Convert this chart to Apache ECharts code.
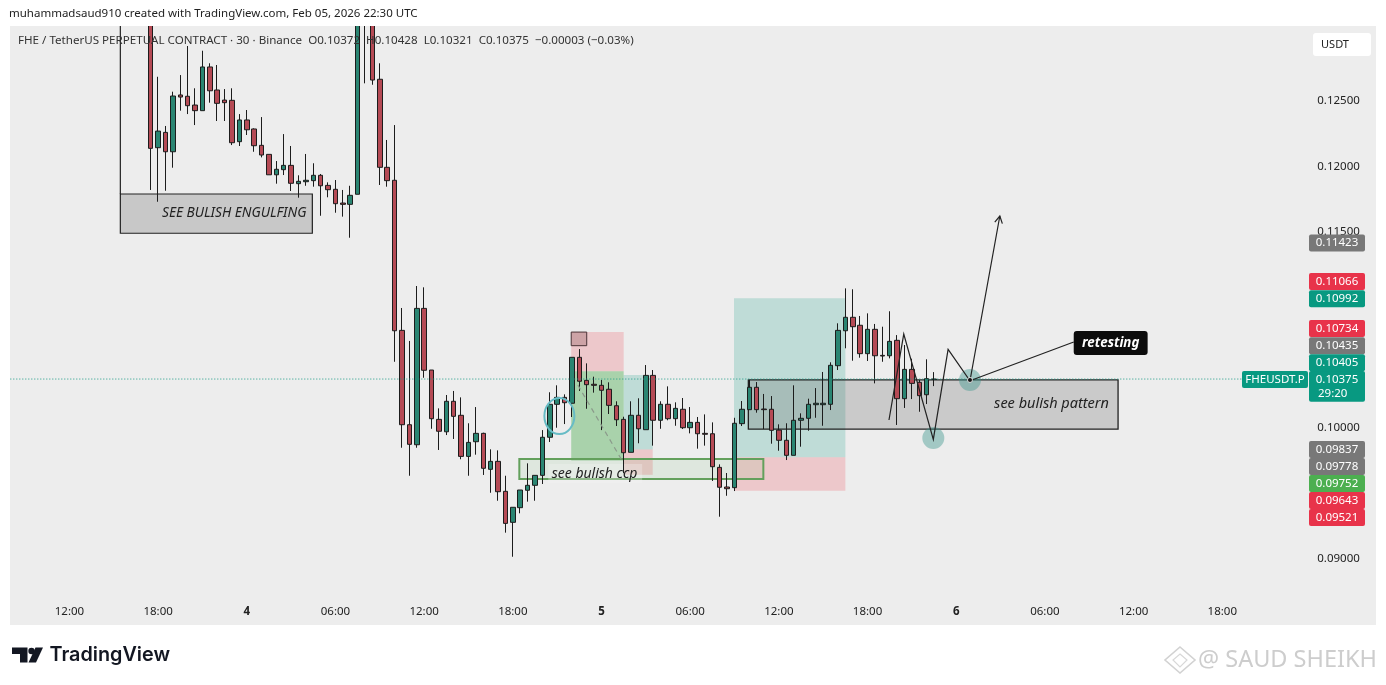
<!DOCTYPE html>
<html>
<head>
<meta charset="utf-8">
<style>html,body{margin:0;padding:0;background:#fff}#c{width:1386px;height:685px}</style>
<script src="https://cdn.jsdelivr.net/npm/echarts@6/dist/echarts.min.js"></script>
</head>
<body>
<div id="c"></div>
<script>
// ---- candle values (30 minute bars, first bar Feb 3 17:30) ----
const opens = [.1345,.12143,.1226,.12112,.12546,.12536,.12469,.12426,.1276,.12584,
.12507,.12505,.12189,.12355,.12286,.12161,.12092,.11936,.11975,.12008,
.11868,.11883,.11891,.11932,.11855,.11825,.1172,.1171,.11787,.1335,
.1322,.12666,.11993,.11894,.10747,.10026,.09873,.10915,.10444,.10067,
.09972,.10205,.10098,.09784,.09896,.0996,.09685,.09746,.09517,.0928,
.09392,.09525,.09563,.09639,.0993,.10182,.10235,.1019,.10541,.10365,
.10335,.10327,.10297,.10171,.10067,.09815,.10098,.09988,.10403,.1006,
.10182,.10072,.10144,.10003,.10044,.0996,.09957,.097,.0955,.09545,
.10034,.10141,.10312,.10146,.10144,.09985,.09907,.09792,.1006,.10075,
.10179,.10179,.10182,.10477,.10744,.10847,.10786,.10569,.10755,.10556,
.10553,.10671,.10225,.10449,.1035,.10255,.10372];
const closes = [.12138,.1227,.12112,.12538,.1253,.12464,.12426,.1276,.12578,.12482,
.12487,.12181,.12355,.1228,.12158,.12087,.11936,.11978,.12008,.11871,
.11886,.11894,.11932,.11852,.11822,.11715,.1171,.11779,.1325,.1322,
.1266,.11993,.11891,.10744,.10026,.09876,.10915,.10442,.10072,.09976,
.10205,.1009,.09784,.09891,.0996,.09693,.09746,.09514,.09272,.09395,
.09527,.09563,.09639,.0993,.10182,.10235,.10194,.10541,.10358,.10332,
.10327,.10289,.10174,.10064,.09812,.10098,.09995,.10403,.1006,.10182,
.10072,.10151,.10003,.10044,.09957,.09953,.09705,.09548,.09537,.10037,
.10144,.10312,.10141,.10141,.09983,.09907,.09792,.1006,.10075,.10182,
.1019,.1019,.1048,.10747,.10847,.10775,.10569,.10755,.10553,.10551,
.10663,.10225,.10449,.10342,.10248,.10378,.10375];
const lows = [.1182,.1173,.11814,.1199,.12426,.124,.12316,.12426,.12487,.12347,
.12347,.12163,.12156,.1224,.12112,.12069,.11936,.11868,.11934,.11812,
.11761,.11852,.11845,.11623,.11764,.11646,.11616,.11455,.11787,.12635,
.12624,.11858,.11845,.10507,.0985,.09636,.0985,.10385,.09995,.09833,
.09947,.09917,.09762,.09636,.09797,.09642,.09506,.09445,.09201,.09017,
.09349,.09438,.09445,.09573,.09894,.10003,.10031,.10085,.10284,.10148,
.10271,.09985,.10108,.10016,.09655,.09815,.09884,.09988,.09866,.09995,
.1006,.10018,.09993,.0996,.09843,.09866,.09596,.09323,.09483,.09519,
.10016,.10141,.10118,.09993,.09881,.09827,.09756,.09792,.09858,.0998,
.10079,.10018,.10138,.10444,.1061,.10515,.10538,.10513,.10342,.10507,
.10533,.10024,.10154,.10222,.10125,.10184,.10321];
const highs = [.137,.12685,.12309,.12571,.12698,.1292,.12597,.12884,.12788,.12775,
.12591,.12597,.124,.12431,.12291,.12377,.12092,.12041,.12247,.12156,
.11932,.12095,.12024,.11942,.11878,.11896,.1182,.11852,.1335,.135,
.1335,.12788,.12202,.12316,.10918,.10666,.11086,.11076,.10444,.10151,
.10253,.10284,.10235,.10037,.10161,.09965,.09838,.0983,.09636,.09395,
.09527,.09731,.09639,.09985,.10274,.10327,.10258,.10541,.10604,.10495,
.10393,.10368,.1035,.10205,.10087,.10205,.10228,.10482,.10444,.10205,
.10319,.10197,.1023,.10161,.10085,.10105,.10044,.09723,.09657,.10079,
.10207,.10368,.10352,.10261,.10245,.10029,.10037,.10327,.10113,.10225,
.10306,.10429,.10503,.10801,.11068,.11061,.10857,.10877,.10796,.10775,
.10893,.10711,.10635,.1053,.10368,.10526,.10428];

const lastPrice = 0.10375;
const firstBar = 11;          // bars after Feb 3 12:00
const barsBefore = 7, barsTotal = 175;

// ---- axis text ----
const categories = [];
for (let i = 0; i < barsTotal; i++) {
  const k = i - barsBefore, m = 12 * 60 + 30 * k;
  const h = Math.floor(m / 60) % 24, mm = m % 60;
  const day = 3 + Math.floor(m / 1440);
  categories.push(h === 0 && mm === 0 ? String(day) : String(h).padStart(2, '0') + ':' + (mm ? '30' : '00'));
}
const FONT = '"Noto Sans", sans-serif';

// ---- price tags on the axis ----
const tagTexts  = ['0.11423','0.11066','0.10992','0.10734','0.10435','0.10405','0.09837','0.09778','0.09752','0.09643','0.09521'];
const tagColors = ['#787878','#e8334a','#089981','#e8334a','#787878','#089981','#787878','#787878','#4caf50','#e8334a','#e8334a'];
const tagTops   = [234.5,273,290.3,320,337.3,354.3,441,458,475,492,509];

// ---- drawing tools, in bar position and price ----
const PINK = 'rgba(242,54,69,0.2)', TEAL = 'rgba(8,153,129,0.2)', SHADE = 'rgba(90,90,90,0.24)';
const zoneBars   = [[6.89,32.87],[67.9,75],[67.9,75],[75,78.93],[75,78.93],[89.93,105],[89.93,105],[67.9,70],[60.88,93.9],[64.8,77.5],[91.87,141.9]];
const zonePrices = [[.11789,.11489],[.10734,.10435],[.10435,.09752],[.10405,.09837],[.09837,.09643],[.10992,.09778],[.09778,.09521],[.10734,.1063],[.09764,.09611],[.09726,.0958],[.10368,.09993]];
const zoneFills  = ['#c8c8c8',PINK,'rgba(76,175,80,0.42)',TEAL,PINK,TEAL,PINK,'rgba(110,50,55,0.25)','rgba(76,175,80,0.09)','rgba(245,245,245,0.3)',SHADE];
const zoneEdges  = ['#222',null,null,null,null,null,null,'#4a3336','#63a05c',null,'#222'];
const zoneWidths = [1.2,0,0,0,0,0,0,1,2,0,1.3];

const pathBars   = [[6.89,6.89],[110.9,112.9,116.9,118.9,121.86,125.9],[121.86,135.9]];
const pathPrices = [[.1315,.11789],[.10062,.10719,.09914,.10602,.10362,.11621],[.10362,.10658]];
const dashBars = [68.8,74.9], dashPrices = [.10329,.09741];
const priceLineBars = [-8,158.7];
const ringBars = [121.86,116.9], ringPrices = [.10368,.09924];
const ovalBar = 66.3, ovalPrice = .10092;
const noteTexts  = ['SEE BULISH ENGULFING','see bulish ccp','see bulish pattern'];
const noteBars   = [22.3,71.06,132.9];
const notePrices = [.11644,.09649,.10184];
const noteSizes  = [13.7,14,14.5];
const calloutBars = [135.9,145.9], calloutPrices = [.10742,.10559];

// ---- build ----
const candleData = categories.map((_, i) => {
  const n = i - barsBefore - firstBar;
  return n >= 0 && n < opens.length ? [opens[n], closes[n], lows[n], highs[n]] : ['-', '-', '-', '-'];
});

function underItem(params, api) {
  const i = params.dataIndex;
  const a = api.coord([zoneBars[i][0], zonePrices[i][0]]), b = api.coord([zoneBars[i][1], zonePrices[i][1]]);
  return { type: 'rect', shape: { x: a[0], y: a[1], width: b[0] - a[0], height: b[1] - a[1] },
    style: { fill: zoneFills[i], stroke: zoneEdges[i], lineWidth: zoneWidths[i] } };
}
function overItem(params, api) {
  const kids = [];
  const line = (bars, prices, extra) => kids.push({ type: 'polyline',
    shape: { points: bars.map((b, j) => api.coord([b, prices[j]])) },
    style: Object.assign({ stroke: '#222', lineWidth: 1.2, fill: null }, extra || {}) });
  line(priceLineBars, [lastPrice, lastPrice], { stroke: '#1a9a84', lineWidth: 1, lineDash: [1, 2] });
  ringBars.forEach((b, j) => {
    const p = api.coord([b, ringPrices[j]]);
    kids.push({ type: 'circle', shape: { cx: p[0], cy: p[1], r: 11 }, style: { fill: 'rgba(60,150,140,0.42)' } });
  });
  const o = api.coord([ovalBar, ovalPrice]);
  kids.push({ type: 'ellipse', shape: { cx: o[0], cy: o[1], rx: 15, ry: 18 }, style: { stroke: '#67bcc6', lineWidth: 2, fill: null } });
  pathBars.forEach((b, j) => line(b, pathPrices[j]));
  line(dashBars, dashPrices, { stroke: '#8b9a8b', lineDash: [5, 4] });
  const chevron = (tip, from) => {
    const ang = Math.atan2(from[1] - tip[1], from[0] - tip[0]), L = 8;
    kids.push({ type: 'polyline', shape: { points: [
      [tip[0] + L * Math.cos(ang + .5), tip[1] + L * Math.sin(ang + .5)], tip,
      [tip[0] + L * Math.cos(ang - .5), tip[1] + L * Math.sin(ang - .5)]] },
      style: { stroke: '#222', lineWidth: 1.2, fill: null } });
  };
  const zz = pathBars[1], zp = pathPrices[1], n = zz.length - 1;
  chevron(api.coord([zz[n], zp[n]]), api.coord([zz[n - 1], zp[n - 1]]));
  const r0 = api.coord([ringBars[0], ringPrices[0]]);
  kids.push({ type: 'circle', shape: { cx: r0[0], cy: r0[1], r: 2.5 }, style: { fill: '#111', stroke: '#fff', lineWidth: 0.8 } });
  noteTexts.forEach((t, j) => {
    const p = api.coord([noteBars[j], notePrices[j]]);
    kids.push({ type: 'text', style: { text: t, x: p[0], y: p[1], fill: '#222', align: 'center', verticalAlign: 'middle', font: 'italic ' + noteSizes[j] + 'px ' + FONT } });
  });
  const c0 = api.coord([calloutBars[0], calloutPrices[0]]), c1 = api.coord([calloutBars[1], calloutPrices[1]]);
  kids.push({ type: 'rect', shape: { x: c0[0], y: c0[1], width: c1[0] - c0[0], height: c1[1] - c0[1], r: 3 }, style: { fill: '#0c0c0c' } });
  kids.push({ type: 'text', style: { text: 'retesting', x: (c0[0] + c1[0]) / 2, y: (c0[1] + c1[1]) / 2, fill: '#fff', align: 'center', verticalAlign: 'middle', font: 'italic bold 13.3px ' + FONT } });
  return { type: 'group', children: kids };
}

const graphics = [
  { type: 'rect', z: -10, silent: true, shape: { x: 10, y: 26, width: 1366, height: 599 }, style: { fill: '#ededed' } },
  { type: 'rect', z: 15, silent: true, shape: { x: 0, y: 0, width: 1386, height: 26 }, style: { fill: '#fff' } },
  { type: 'text', z: 20, style: { text: 'muhammadsaud910 created with TradingView.com, Feb 05, 2026 22:30 UTC', x: 9, y: 14, fill: '#222', verticalAlign: 'middle', font: '11.5px ' + FONT } },
  { type: 'text', z: 20, style: { text: 'FHE / TetherUS PERPETUAL CONTRACT · 30 · Binance  O0.10372  H0.10428  L0.10321  C0.10375  −0.00003 (−0.03%)', x: 18, y: 41, fill: '#333', verticalAlign: 'middle', font: '11.6px ' + FONT } },
  { type: 'rect', z: 20, shape: { x: 1313, y: 33, width: 58, height: 23, r: 3 }, style: { fill: '#fff' } },
  { type: 'text', z: 21, style: { text: 'USDT', x: 1335, y: 44.5, fill: '#222', align: 'center', verticalAlign: 'middle', font: '11px ' + FONT } },
  { type: 'rect', z: 20, shape: { x: 1242, y: 371, width: 66, height: 17, r: 2 }, style: { fill: '#089981' } },
  { type: 'text', z: 21, style: { text: 'FHEUSDT.P', x: 1275, y: 379.5, fill: '#fff', align: 'center', verticalAlign: 'middle', font: '11.5px ' + FONT } },
  { type: 'rect', z: 20, shape: { x: 1309, y: 371, width: 56, height: 30.7, r: 2 }, style: { fill: '#089981' } },
  { type: 'text', z: 21, style: { text: '0.10375', x: 1337, y: 379.5, fill: '#fff', align: 'center', verticalAlign: 'middle', font: '11.5px ' + FONT } },
  { type: 'text', z: 21, style: { text: '29:20', x: 1318, y: 394, fill: '#fff', verticalAlign: 'middle', font: '11.5px ' + FONT } },
  // TradingView wordmark and the watermark
  { type: 'polygon', z: 20, shape: { points: [[12,647.5],[27.5,647.5],[27.5,662.5],[20,662.5],[20,654],[12,654]] }, style: { fill: '#131722' } },
  { type: 'circle', z: 20, shape: { cx: 31.5, cy: 651, r: 3.2 }, style: { fill: '#131722' } },
  { type: 'polygon', z: 20, shape: { points: [[35.5,647.5],[43,647.5],[36,662.5],[28.5,662.5]] }, style: { fill: '#131722' } },
  { type: 'text', z: 20, style: { text: 'TradingView', x: 49.5, y: 655, fill: '#131722', verticalAlign: 'middle', font: '600 19.8px Inter, ' + FONT } },
  { type: 'polygon', z: 20, shape: { points: [[1180,647],[1195,660],[1180,673],[1165,660]] }, style: { fill: 'none', stroke: '#d2d2d2', lineWidth: 1.6 } },
  { type: 'polygon', z: 20, shape: { points: [[1180,654],[1187,660],[1180,667],[1173,660]] }, style: { fill: 'none', stroke: '#d8d8d8', lineWidth: 1.2 } },
  { type: 'text', z: 20, style: { text: '@ SAUD SHEIKH', x: 1198, y: 660, fill: '#cdcdcd', verticalAlign: 'middle', font: '23.5px ' + FONT } }
];
tagTexts.forEach((t, i) => {
  graphics.push({ type: 'rect', z: 20, shape: { x: 1309, y: tagTops[i], width: 56, height: 17, r: 2 }, style: { fill: tagColors[i] } });
  graphics.push({ type: 'text', z: 21, style: { text: t, x: 1337, y: tagTops[i] + 8.5, fill: '#fff', align: 'center', verticalAlign: 'middle', font: '11.5px ' + FONT } });
});

const chart = echarts.init(document.getElementById('c'), null, { renderer: 'canvas' });
chart.setOption({
  animation: false,
  backgroundColor: '#fff',
  graphic: graphics,
  grid: { left: 14, top: 26, width: 1293.25, height: 598.4 },
  xAxis: [
    { type: 'category', data: categories, position: 'bottom', boundaryGap: true,
      axisLine: { show: false }, axisTick: { show: false }, splitLine: { show: false },
      axisLabel: { inside: true, margin: 7, color: '#222', fontFamily: FONT, fontSize: 11.5,
        interval: (i) => (i - barsBefore) % 12 === 0,
        formatter: (v) => v.length < 3 ? '{d|' + v + '}' : v,
        rich: { d: { fontWeight: 'bold', fontFamily: FONT, fontSize: 11.5, color: '#222' } } } },
    { type: 'value', min: -barsBefore - 0.5, max: barsTotal - barsBefore - 0.5, show: false, position: 'top' }
  ],
  yAxis: { type: 'value', position: 'right', min: 0.085, max: 0.13073, interval: 0.005, scale: true,
    axisLine: { show: false }, axisTick: { show: false }, splitLine: { show: false },
    axisLabel: { margin: 10, color: '#222', fontFamily: FONT, fontSize: 11.5, showMaxLabel: false, showMinLabel: false,
      formatter: (v) => (v > 0.1295 ? '' : v.toFixed(5)) } },
  series: [
    { type: 'custom', name: 'zones', xAxisIndex: 1, yAxisIndex: 0, z: 1, silent: true, clip: false,
      renderItem: underItem, data: zoneBars.map((b, i) => [b[0], zonePrices[i][0]]) },
    { type: 'candlestick', name: 'FHEUSDT.P', xAxisIndex: 0, yAxisIndex: 0, z: 2, barWidth: 5, data: candleData,
      itemStyle: { color: '#2a8572', color0: '#b54a55', borderColor: '#1c1c1c', borderColor0: '#1c1c1c', borderWidth: 1 } },
    { type: 'custom', name: 'drawings', xAxisIndex: 1, yAxisIndex: 0, z: 3, silent: true, clip: false,
      renderItem: overItem, data: [[0, 0.1]] }
  ]
});
</script>
</body>
</html>
